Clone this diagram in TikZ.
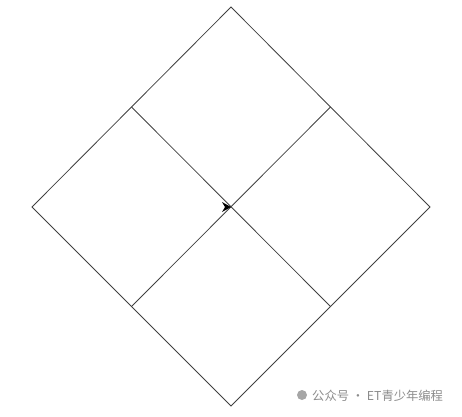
\documentclass[tikz,border=0pt]{standalone}
\usepackage{fontspec}
\newfontfamily\cjk{Noto Sans CJK SC}
\begin{document}
\begin{tikzpicture}[x=1pt,y=-1pt,
  edge/.style={draw=black!75, line width=0.8pt},
  wm/.style={text=black!45, font=\cjk\fontsize{12.3}{14}\selectfont, inner sep=0pt, anchor=west}]
\useasboundingbox (0,0) rectangle (462,416);
\coordinate (T) at (231,7);
\coordinate (L) at (32,207);
\coordinate (R) at (430,207);
\coordinate (B) at (231,406);
\coordinate (C) at (231,207);
\coordinate (TL) at (131.5,107);
\coordinate (TR) at (330.5,107);
\coordinate (BL) at (131.5,306.5);
\coordinate (BR) at (330.5,306.5);
\draw[edge] (T) -- (R) -- (B) -- (L) -- cycle;
\draw[edge] (TL) -- (BR);
\draw[edge] (TR) -- (BL);
\fill[black] (C) -- (222,202) -- (225,207) -- (222,212) -- cycle;
\fill[black!35] (302,395) circle (5);
\node[wm] (w) at (312,396) {公众号 · ET青少年编程};
\end{tikzpicture}
\end{document}
